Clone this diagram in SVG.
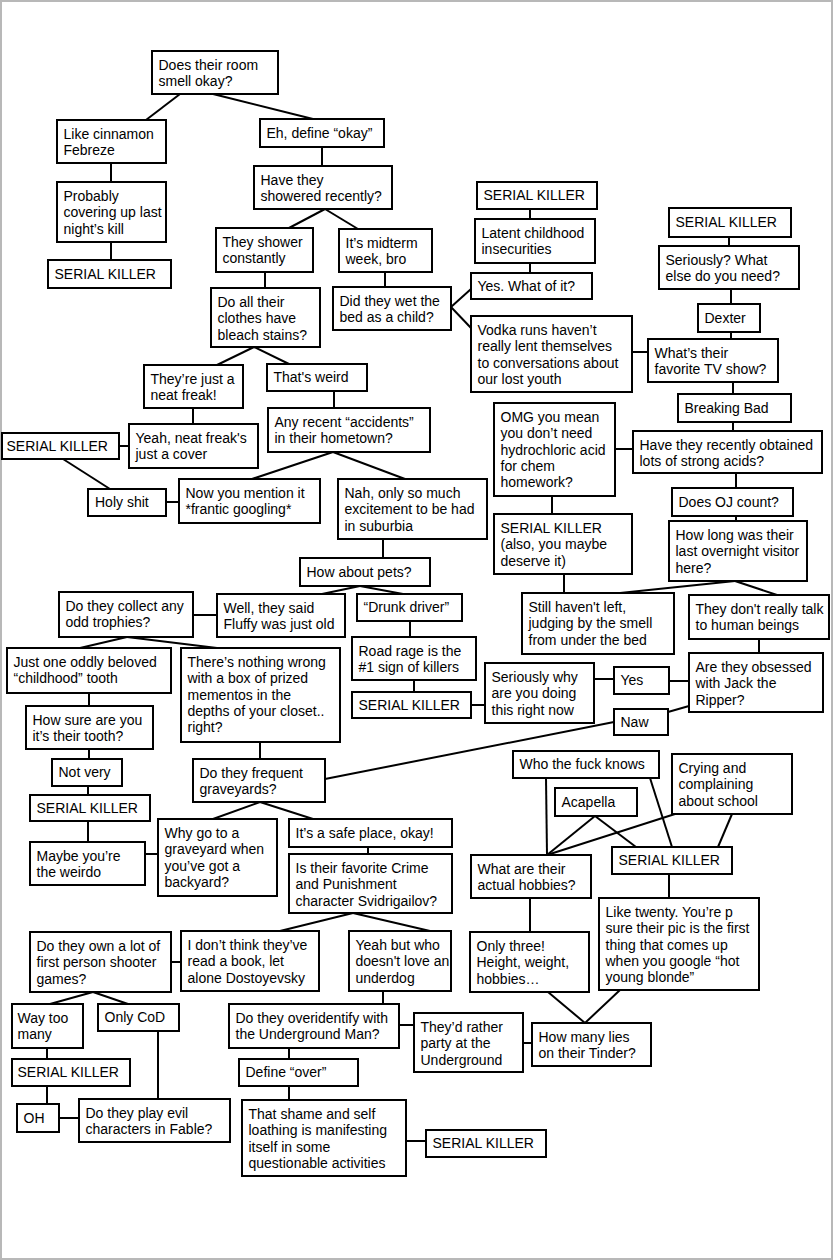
<svg xmlns="http://www.w3.org/2000/svg" width="840" height="1260" viewBox="0 0 840 1260">
<style>
.b{fill:#fff;stroke:#000;stroke-width:2}
text{font-family:"Liberation Sans",Arial,sans-serif;font-size:14px;fill:#000}
#connectors line{stroke:#000;stroke-width:2;fill:none}
</style>
<rect x="0" y="0" width="840" height="1260" fill="#fff"/>
<rect x="1" y="1" width="831" height="1258" fill="none" stroke="#b8b8b8" stroke-width="2"/>
<g id="connectors">
<line x1="180" y1="94" x2="146" y2="120"/>
<line x1="213" y1="94" x2="313" y2="119"/>
<line x1="111" y1="163" x2="111" y2="182"/>
<line x1="111" y1="242" x2="111" y2="260"/>
<line x1="322" y1="147" x2="322" y2="166"/>
<line x1="325" y1="209" x2="289" y2="228"/>
<line x1="325" y1="209" x2="358" y2="229"/>
<line x1="265" y1="272" x2="265" y2="288"/>
<line x1="385" y1="272" x2="385" y2="287"/>
<line x1="254" y1="347" x2="217" y2="365"/>
<line x1="254" y1="347" x2="289" y2="364"/>
<line x1="193" y1="408" x2="193" y2="424"/>
<line x1="334" y1="391" x2="334" y2="408"/>
<line x1="119" y1="446" x2="129" y2="446"/>
<line x1="63" y1="459" x2="110" y2="489"/>
<line x1="166" y1="502" x2="179" y2="502"/>
<line x1="333" y1="452" x2="252" y2="479"/>
<line x1="333" y1="452" x2="405" y2="479"/>
<line x1="383" y1="539" x2="383" y2="558"/>
<line x1="360" y1="586" x2="322" y2="594"/>
<line x1="360" y1="586" x2="403" y2="594"/>
<line x1="193" y1="615" x2="217" y2="615"/>
<line x1="127" y1="637" x2="80" y2="648"/>
<line x1="127" y1="637" x2="217" y2="648"/>
<line x1="89" y1="693" x2="89" y2="706"/>
<line x1="410" y1="621" x2="410" y2="637"/>
<line x1="414" y1="680" x2="414" y2="692"/>
<line x1="471" y1="705" x2="485" y2="705"/>
<line x1="594" y1="679" x2="614" y2="679"/>
<line x1="669" y1="681" x2="689" y2="681"/>
<line x1="689" y1="706" x2="668" y2="712"/>
<line x1="614" y1="722" x2="325" y2="779"/>
<line x1="759" y1="639" x2="759" y2="653"/>
<line x1="735" y1="581" x2="620" y2="593"/>
<line x1="735" y1="581" x2="777" y2="595"/>
<line x1="564" y1="574" x2="564" y2="593"/>
<line x1="552" y1="496" x2="552" y2="514"/>
<line x1="615" y1="449" x2="633" y2="449"/>
<line x1="736" y1="473" x2="736" y2="488"/>
<line x1="736" y1="516" x2="736" y2="521"/>
<line x1="733" y1="382" x2="733" y2="394"/>
<line x1="733" y1="422" x2="733" y2="431"/>
<line x1="731" y1="332" x2="731" y2="339"/>
<line x1="731" y1="289" x2="731" y2="304"/>
<line x1="729" y1="237" x2="729" y2="246"/>
<line x1="632" y1="352" x2="648" y2="352"/>
<line x1="451" y1="307" x2="471" y2="289"/>
<line x1="451" y1="307" x2="471" y2="328"/>
<line x1="530" y1="263" x2="530" y2="273"/>
<line x1="530" y1="209" x2="530" y2="219"/>
<line x1="89" y1="749" x2="89" y2="759"/>
<line x1="88" y1="786" x2="88" y2="795"/>
<line x1="88" y1="821" x2="88" y2="842"/>
<line x1="145" y1="854" x2="158" y2="854"/>
<line x1="260" y1="742" x2="260" y2="759"/>
<line x1="260" y1="802" x2="213" y2="819"/>
<line x1="260" y1="802" x2="313" y2="819"/>
<line x1="368" y1="847" x2="368" y2="854"/>
<line x1="353" y1="913" x2="280" y2="931"/>
<line x1="353" y1="913" x2="430" y2="931"/>
<line x1="171" y1="962" x2="181" y2="962"/>
<line x1="93" y1="992" x2="50" y2="1004"/>
<line x1="93" y1="992" x2="128" y2="1004"/>
<line x1="47" y1="1048" x2="47" y2="1059"/>
<line x1="47" y1="1086" x2="47" y2="1104"/>
<line x1="59" y1="1118" x2="79" y2="1118"/>
<line x1="158" y1="1031" x2="158" y2="1099"/>
<line x1="383" y1="991" x2="383" y2="1004"/>
<line x1="399" y1="1025" x2="414" y2="1025"/>
<line x1="289" y1="1048" x2="289" y2="1059"/>
<line x1="289" y1="1086" x2="289" y2="1100"/>
<line x1="406" y1="1141" x2="426" y2="1141"/>
<line x1="523" y1="1043" x2="532" y2="1043"/>
<line x1="548" y1="992" x2="585" y2="1023"/>
<line x1="620" y1="990" x2="585" y2="1023"/>
<line x1="530" y1="898" x2="530" y2="932"/>
<line x1="669" y1="874" x2="669" y2="898"/>
<line x1="546" y1="778" x2="547" y2="855"/>
<line x1="595" y1="816" x2="547" y2="855"/>
<line x1="595" y1="816" x2="636" y2="847"/>
<line x1="675" y1="814" x2="547" y2="855"/>
<line x1="650" y1="778" x2="672" y2="847"/>
<line x1="732" y1="814" x2="718" y2="847"/>
</g>
<g id="n1"><rect class="b" x="152" y="51" width="126" height="43"/><text><tspan x="158.5" y="70">Does their room</tspan><tspan x="158.5" y="86.3">smell okay?</tspan></text></g>
<g id="n2"><rect class="b" x="57" y="120" width="109" height="43"/><text><tspan x="63.5" y="139">Like cinnamon</tspan><tspan x="63.5" y="155.3">Febreze</tspan></text></g>
<g id="n3"><rect class="b" x="57" y="182" width="109" height="60"/><text><tspan x="63.5" y="201">Probably</tspan><tspan x="63.5" y="217.3">covering up last</tspan><tspan x="63.5" y="233.6">night’s kill</tspan></text></g>
<g id="n4"><rect class="b" x="48" y="260" width="123" height="28"/><text><tspan x="54.5" y="279">SERIAL KILLER</tspan></text></g>
<g id="n5"><rect class="b" x="260" y="119" width="124" height="28"/><text><tspan x="266.5" y="138">Eh, define “okay”</tspan></text></g>
<g id="n6"><rect class="b" x="254" y="166" width="138" height="43"/><text><tspan x="260.5" y="185">Have they</tspan><tspan x="260.5" y="201.3">showered recently?</tspan></text></g>
<g id="n7"><rect class="b" x="216" y="228" width="97" height="44"/><text><tspan x="222.5" y="247">They shower</tspan><tspan x="222.5" y="263.3">constantly</tspan></text></g>
<g id="n8"><rect class="b" x="339" y="229" width="93" height="43"/><text><tspan x="345.5" y="248">It’s midterm</tspan><tspan x="345.5" y="264.3">week, bro</tspan></text></g>
<g id="n9"><rect class="b" x="211" y="288" width="109" height="59"/><text><tspan x="217.5" y="307">Do all their</tspan><tspan x="217.5" y="323.3">clothes have</tspan><tspan x="217.5" y="339.6">bleach stains?</tspan></text></g>
<g id="n10"><rect class="b" x="333" y="287" width="118" height="43"/><text><tspan x="339.5" y="306">Did they wet the</tspan><tspan x="339.5" y="322.3">bed as a child?</tspan></text></g>
<g id="n11"><rect class="b" x="477" y="182" width="120" height="27"/><text><tspan x="483.5" y="200">SERIAL KILLER</tspan></text></g>
<g id="n12"><rect class="b" x="475" y="219" width="120" height="44"/><text><tspan x="481.5" y="238">Latent childhood</tspan><tspan x="481.5" y="254.3">insecurities</tspan></text></g>
<g id="n13"><rect class="b" x="471" y="273" width="121" height="26"/><text><tspan x="477.5" y="291">Yes. What of it?</tspan></text></g>
<g id="n14"><rect class="b" x="471" y="316" width="161" height="76"/><text><tspan x="477.5" y="335">Vodka runs haven’t</tspan><tspan x="477.5" y="351.3">really lent themselves</tspan><tspan x="477.5" y="367.6">to conversations about</tspan><tspan x="477.5" y="383.9">our lost youth</tspan></text></g>
<g id="n15"><rect class="b" x="669" y="208" width="122" height="29"/><text><tspan x="675.5" y="227">SERIAL KILLER</tspan></text></g>
<g id="n16"><rect class="b" x="659" y="246" width="140" height="43"/><text><tspan x="665.5" y="265">Seriously? What</tspan><tspan x="665.5" y="281.3">else do you need?</tspan></text></g>
<g id="n17"><rect class="b" x="698" y="304" width="62" height="28"/><text><tspan x="704.5" y="323">Dexter</tspan></text></g>
<g id="n18"><rect class="b" x="648" y="339" width="130" height="43"/><text><tspan x="654.5" y="358">What’s their</tspan><tspan x="654.5" y="374.3">favorite TV show?</tspan></text></g>
<g id="n19"><rect class="b" x="678" y="394" width="113" height="28"/><text><tspan x="684.5" y="413">Breaking Bad</tspan></text></g>
<g id="n20"><rect class="b" x="633" y="431" width="189" height="42"/><text><tspan x="639.5" y="450">Have they recently obtained</tspan><tspan x="639.5" y="466.3">lots of strong acids?</tspan></text></g>
<g id="n21"><rect class="b" x="494" y="403" width="121" height="93"/><text><tspan x="500.5" y="422">OMG you mean</tspan><tspan x="500.5" y="438.3">you don’t need</tspan><tspan x="500.5" y="454.6">hydrochloric acid</tspan><tspan x="500.5" y="470.9">for chem</tspan><tspan x="500.5" y="487.2">homework?</tspan></text></g>
<g id="n22"><rect class="b" x="494" y="514" width="138" height="60"/><text><tspan x="500.5" y="533">SERIAL KILLER</tspan><tspan x="500.5" y="549.3">(also, you maybe</tspan><tspan x="500.5" y="565.6">deserve it)</tspan></text></g>
<g id="n23"><rect class="b" x="672" y="488" width="121" height="28"/><text><tspan x="678.5" y="507">Does OJ count?</tspan></text></g>
<g id="n24"><rect class="b" x="669" y="521" width="138" height="60"/><text><tspan x="675.5" y="540">How long was their</tspan><tspan x="675.5" y="556.3">last overnight visitor</tspan><tspan x="675.5" y="572.6">here?</tspan></text></g>
<g id="n25"><rect class="b" x="522" y="593" width="152" height="61"/><text><tspan x="528.5" y="612">Still haven't left,</tspan><tspan x="528.5" y="628.3">judging by the smell</tspan><tspan x="528.5" y="644.6">from under the bed</tspan></text></g>
<g id="n26"><rect class="b" x="689" y="595" width="140" height="44"/><text><tspan x="695.5" y="614">They don't really talk</tspan><tspan x="695.5" y="630.3">to human beings</tspan></text></g>
<g id="n27"><rect class="b" x="689" y="653" width="134" height="59"/><text><tspan x="695.5" y="672">Are they obsessed</tspan><tspan x="695.5" y="688.3">with Jack the</tspan><tspan x="695.5" y="704.6">Ripper?</tspan></text></g>
<g id="n28"><rect class="b" x="144" y="365" width="99" height="43"/><text><tspan x="150.5" y="384">They’re just a</tspan><tspan x="150.5" y="400.3">neat freak!</tspan></text></g>
<g id="n29"><rect class="b" x="267" y="364" width="100" height="27"/><text><tspan x="273.5" y="382">That's weird</tspan></text></g>
<g id="n30"><rect class="b" x="129" y="424" width="129" height="44"/><text><tspan x="135.5" y="443">Yeah, neat freak's</tspan><tspan x="135.5" y="459.3">just a cover</tspan></text></g>
<g id="n31"><rect class="b" x="268" y="408" width="162" height="44"/><text><tspan x="274.5" y="427">Any recent “accidents”</tspan><tspan x="274.5" y="443.3">in their hometown?</tspan></text></g>
<g id="n32"><rect class="b" x="2" y="433" width="117" height="26"/><text><tspan x="6.5" y="451">SERIAL KILLER</tspan></text></g>
<g id="n33"><rect class="b" x="88" y="489" width="78" height="27"/><text><tspan x="95" y="507">Holy shit</tspan></text></g>
<g id="n34"><rect class="b" x="179" y="479" width="141" height="44"/><text><tspan x="185.5" y="498">Now you mention it</tspan><tspan x="185.5" y="514.3">*frantic googling*</tspan></text></g>
<g id="n35"><rect class="b" x="338" y="479" width="149" height="60"/><text><tspan x="344.5" y="498">Nah, only so much</tspan><tspan x="344.5" y="514.3">excitement to be had</tspan><tspan x="344.5" y="530.6">in suburbia</tspan></text></g>
<g id="n36"><rect class="b" x="300" y="558" width="130" height="28"/><text><tspan x="306.5" y="577">How about pets?</tspan></text></g>
<g id="n37"><rect class="b" x="217" y="594" width="128" height="43"/><text><tspan x="223.5" y="613">Well, they said</tspan><tspan x="223.5" y="629.3">Fluffy was just old</tspan></text></g>
<g id="n38"><rect class="b" x="59" y="592" width="134" height="45"/><text><tspan x="65.5" y="611">Do they collect any</tspan><tspan x="65.5" y="627.3">odd trophies?</tspan></text></g>
<g id="n39"><rect class="b" x="357" y="594" width="105" height="27"/><text><tspan x="363.5" y="612">“Drunk driver”</tspan></text></g>
<g id="n40"><rect class="b" x="352" y="637" width="124" height="43"/><text><tspan x="358.5" y="656">Road rage is the</tspan><tspan x="358.5" y="672.3">#1 sign of killers</tspan></text></g>
<g id="n41"><rect class="b" x="352" y="692" width="119" height="26"/><text><tspan x="358.5" y="710">SERIAL KILLER</tspan></text></g>
<g id="n42"><rect class="b" x="485" y="663" width="109" height="60"/><text><tspan x="491.5" y="682">Seriously why</tspan><tspan x="491.5" y="698.3">are you doing</tspan><tspan x="491.5" y="714.6">this right now</tspan></text></g>
<g id="n43"><rect class="b" x="614" y="667" width="55" height="27"/><text><tspan x="620.5" y="685">Yes</tspan></text></g>
<g id="n44"><rect class="b" x="614" y="709" width="54" height="26"/><text><tspan x="620.5" y="727">Naw</tspan></text></g>
<g id="n45"><rect class="b" x="7" y="648" width="164" height="45"/><text><tspan x="13.5" y="667">Just one oddly beloved</tspan><tspan x="13.5" y="683.3">“childhood” tooth</tspan></text></g>
<g id="n46"><rect class="b" x="181" y="648" width="159" height="94"/><text><tspan x="187.5" y="667">There’s nothing wrong</tspan><tspan x="187.5" y="683.3">with a box of prized</tspan><tspan x="187.5" y="699.6">mementos in the</tspan><tspan x="187.5" y="715.9">depths of your closet..</tspan><tspan x="187.5" y="732.2">right?</tspan></text></g>
<g id="n47"><rect class="b" x="26" y="706" width="127" height="43"/><text><tspan x="32.5" y="725">How sure are you</tspan><tspan x="32.5" y="741.3">it’s their tooth?</tspan></text></g>
<g id="n48"><rect class="b" x="52" y="759" width="70" height="27"/><text><tspan x="58.5" y="777">Not very</tspan></text></g>
<g id="n49"><rect class="b" x="30" y="795" width="120" height="26"/><text><tspan x="36.5" y="813">SERIAL KILLER</tspan></text></g>
<g id="n50"><rect class="b" x="30" y="842" width="115" height="43"/><text><tspan x="36.5" y="861">Maybe you’re</tspan><tspan x="36.5" y="877.3">the weirdo</tspan></text></g>
<g id="n51"><rect class="b" x="193" y="759" width="132" height="43"/><text><tspan x="199.5" y="778">Do they frequent</tspan><tspan x="199.5" y="794.3">graveyards?</tspan></text></g>
<g id="n52"><rect class="b" x="158" y="819" width="119" height="77"/><text><tspan x="164.5" y="838">Why go to a</tspan><tspan x="164.5" y="854.3">graveyard when</tspan><tspan x="164.5" y="870.6">you’ve got a</tspan><tspan x="164.5" y="886.9">backyard?</tspan></text></g>
<g id="n53"><rect class="b" x="289" y="819" width="163" height="28"/><text><tspan x="295.5" y="838">It’s a safe place, okay!</tspan></text></g>
<g id="n54"><rect class="b" x="289" y="854" width="163" height="59"/><text><tspan x="295.5" y="873">Is their favorite Crime</tspan><tspan x="295.5" y="889.3">and Punishment</tspan><tspan x="295.5" y="905.6">character Svidrigailov?</tspan></text></g>
<g id="n55"><rect class="b" x="513" y="751" width="146" height="27"/><text><tspan x="519.5" y="769">Who the fuck knows</tspan></text></g>
<g id="n56"><rect class="b" x="555" y="788" width="82" height="28"/><text><tspan x="561.5" y="807">Acapella</tspan></text></g>
<g id="n57"><rect class="b" x="672" y="754" width="120" height="60"/><text><tspan x="678.5" y="773">Crying and</tspan><tspan x="678.5" y="789.3">complaining</tspan><tspan x="678.5" y="805.6">about school</tspan></text></g>
<g id="n58"><rect class="b" x="612" y="847" width="120" height="27"/><text><tspan x="618.5" y="865">SERIAL KILLER</tspan></text></g>
<g id="n59"><rect class="b" x="471" y="855" width="120" height="43"/><text><tspan x="477.5" y="874">What are their</tspan><tspan x="477.5" y="890.3">actual hobbies?</tspan></text></g>
<g id="n60"><rect class="b" x="470" y="932" width="119" height="60"/><text><tspan x="476.5" y="951">Only three!</tspan><tspan x="476.5" y="967.3">Height, weight,</tspan><tspan x="476.5" y="983.6">hobbies…</tspan></text></g>
<g id="n61"><rect class="b" x="599" y="898" width="160" height="92"/><text><tspan x="605.5" y="917">Like twenty. You’re p</tspan><tspan x="605.5" y="933.3">sure their pic is the first</tspan><tspan x="605.5" y="949.6">thing that comes up</tspan><tspan x="605.5" y="965.9">when you google “hot</tspan><tspan x="605.5" y="982.2">young blonde”</tspan></text></g>
<g id="n62"><rect class="b" x="30" y="932" width="141" height="60"/><text><tspan x="36.5" y="951">Do they own a lot of</tspan><tspan x="36.5" y="967.3">first person shooter</tspan><tspan x="36.5" y="983.6">games?</tspan></text></g>
<g id="n63"><rect class="b" x="181" y="931" width="138" height="60"/><text><tspan x="187.5" y="950">I don’t think they’ve</tspan><tspan x="187.5" y="966.3">read a book, let</tspan><tspan x="187.5" y="982.6">alone Dostoyevsky</tspan></text></g>
<g id="n64"><rect class="b" x="349" y="931" width="102" height="60"/><text><tspan x="355.5" y="950">Yeah but who</tspan><tspan x="355.5" y="966.3">doesn't love an</tspan><tspan x="355.5" y="982.6">underdog</tspan></text></g>
<g id="n65"><rect class="b" x="12" y="1004" width="71" height="44"/><text><tspan x="17.5" y="1023">Way too</tspan><tspan x="17.5" y="1039.3">many</tspan></text></g>
<g id="n66"><rect class="b" x="98" y="1004" width="81" height="27"/><text><tspan x="104.5" y="1022">Only CoD</tspan></text></g>
<g id="n67"><rect class="b" x="12" y="1059" width="118" height="27"/><text><tspan x="17.5" y="1077">SERIAL KILLER</tspan></text></g>
<g id="n68"><rect class="b" x="17" y="1104" width="42" height="28"/><text><tspan x="23.5" y="1123">OH</tspan></text></g>
<g id="n69"><rect class="b" x="79" y="1099" width="151" height="43"/><text><tspan x="85.5" y="1118">Do they play evil</tspan><tspan x="85.5" y="1134.3">characters in Fable?</tspan></text></g>
<g id="n70"><rect class="b" x="229" y="1004" width="170" height="44"/><text><tspan x="235.5" y="1023">Do they overidentify with</tspan><tspan x="235.5" y="1039.3">the Underground Man?</tspan></text></g>
<g id="n71"><rect class="b" x="239" y="1059" width="119" height="27"/><text><tspan x="245.5" y="1077">Define “over”</tspan></text></g>
<g id="n72"><rect class="b" x="242" y="1100" width="164" height="76"/><text><tspan x="248.5" y="1119">That shame and self</tspan><tspan x="248.5" y="1135.3">loathing is manifesting</tspan><tspan x="248.5" y="1151.6">itself in some</tspan><tspan x="248.5" y="1167.9">questionable activities</tspan></text></g>
<g id="n73"><rect class="b" x="426" y="1130" width="120" height="27"/><text><tspan x="432.5" y="1148">SERIAL KILLER</tspan></text></g>
<g id="n74"><rect class="b" x="414" y="1013" width="109" height="59"/><text><tspan x="420.5" y="1032">They’d rather</tspan><tspan x="420.5" y="1048.3">party at the</tspan><tspan x="420.5" y="1064.6">Underground</tspan></text></g>
<g id="n75"><rect class="b" x="532" y="1023" width="119" height="43"/><text><tspan x="538.5" y="1042">How many lies</tspan><tspan x="538.5" y="1058.3">on their Tinder?</tspan></text></g>
</svg>
